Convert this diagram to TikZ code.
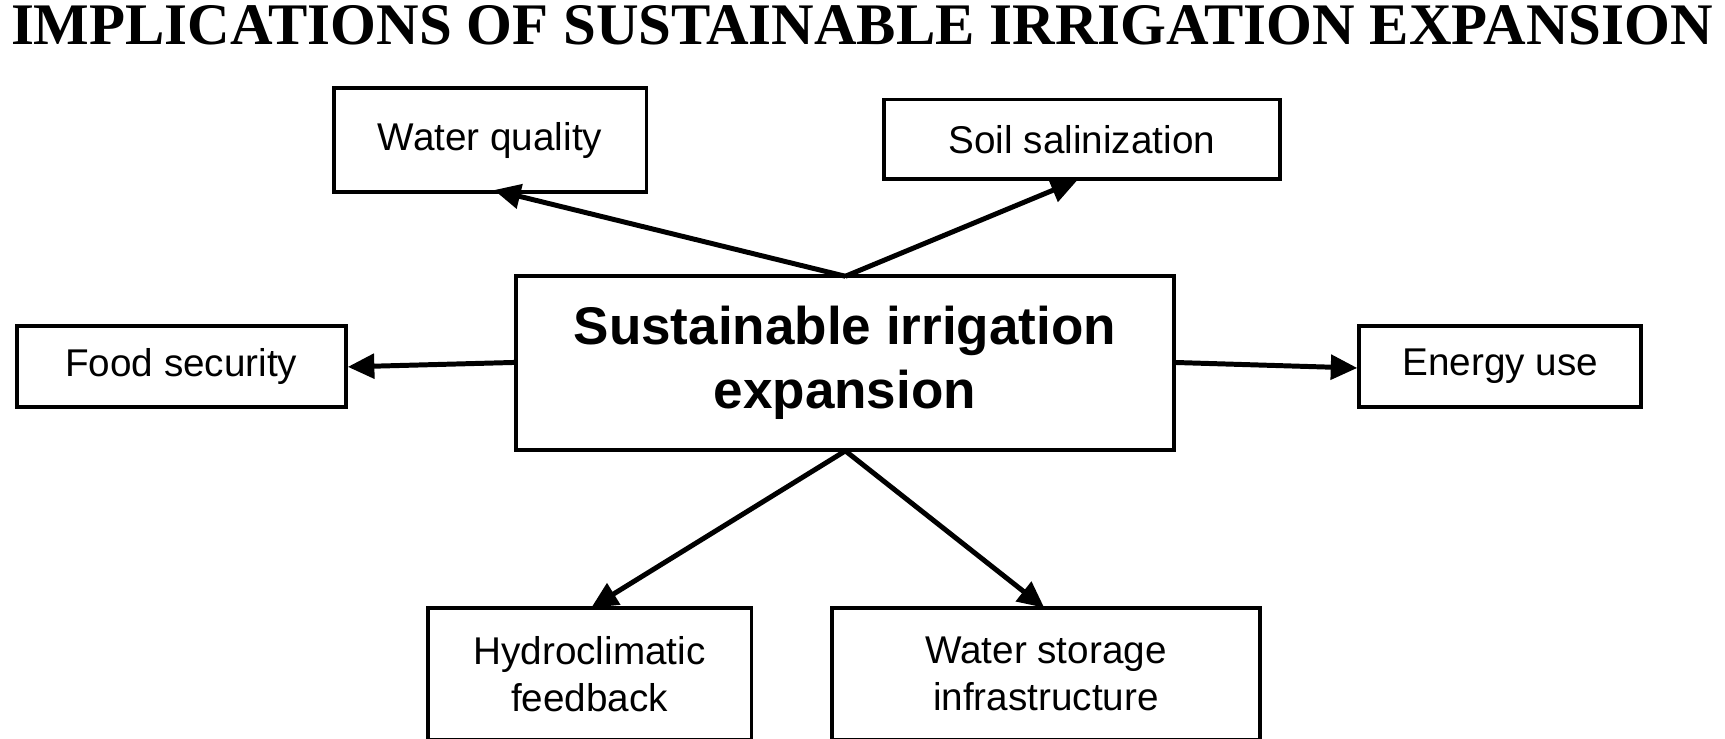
\documentclass[tikz,border=0pt]{standalone}
\usepackage{fontspec}
\setmainfont{Liberation Sans}
\newfontfamily\titlefont{Liberation Serif}
\usetikzlibrary{arrows.meta}
\begin{document}
\begin{tikzpicture}[x=0.5pt,y=-0.5pt,
  box/.style={draw,line width=1.75pt,align=center,inner sep=0pt,font=\fontsize{17.5}{21.5}\selectfont},
  arr/.style={line width=2.25pt,-{Triangle[length=12pt,width=11pt]}}]
\useasboundingbox (0,0) rectangle (1561,668);
\node[font=\titlefont\bfseries\fontsize{25}{28}\selectfont,anchor=base] (t) at (780,40) {\resizebox{770pt}{!}{IMPLICATIONS OF SUSTAINABLE IRRIGATION EXPANSION}};
\node[box,minimum width=141.5pt,minimum height=47pt] (wq) at (443.5,127) {Water quality};
\node[box,minimum width=179pt,minimum height=36pt] (ss) at (979,126) {Soil salinization};
\node[box,minimum width=297.5pt,minimum height=78.5pt,font=\bfseries\fontsize{24}{29}\selectfont] (c) at (764.5,328.5) {Sustainable irrigation\\expansion};
\node[box,minimum width=149pt,minimum height=36.5pt] (fs) at (164,331.5) {Food security};
\node[box,minimum width=127.5pt,minimum height=36.5pt] (eu) at (1357.5,331.5) {Energy use};
\node[box,minimum width=146.5pt,minimum height=60pt] (hf) at (533.5,610) {Hydroclimatic\\feedback};
\node[box,minimum width=193.5pt,minimum height=60pt] (ws) at (946.5,610) {Water storage\\infrastructure};
\coordinate (top) at (765,250);
\coordinate (bot) at (765,408);
\draw[arr] (top) -- (447,172);
\draw[arr] (top) -- (975,163);
\draw[arr] (465,328) -- (fs.east |- 0,332);
\draw[arr] (1063,328) -- (eu.west |- 0,333);
\draw[arr] (bot) -- (535,550);
\draw[arr] (bot) -- (945,550);
\end{tikzpicture}
\end{document}
